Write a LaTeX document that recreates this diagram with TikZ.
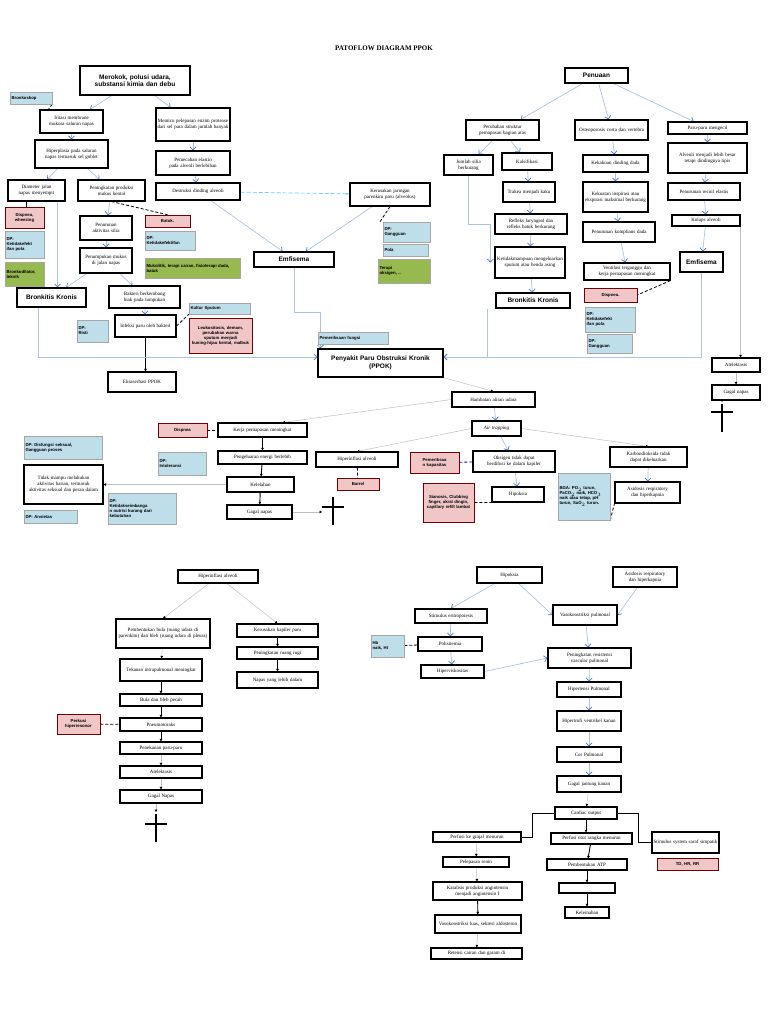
\documentclass[tikz,border=0pt]{standalone}
\usepackage{fontspec}
\setmainfont{Liberation Serif}
\setsansfont{Liberation Sans}
\usetikzlibrary{arrows.meta,backgrounds}
\hyphenpenalty=10000
\exhyphenpenalty=10000
\definecolor{pinkc}{RGB}{240,198,198}
\definecolor{bluec}{RGB}{190,222,234}
\definecolor{greenc}{RGB}{150,185,80}
\definecolor{linec}{RGB}{170,195,225}
\definecolor{headc}{RGB}{70,120,190}
\tikzset{
 box/.style={draw, line width=1.1pt, fill=white, align=center, inner xsep=1.5pt, inner ysep=0.5pt, font=\fontsize{5}{5.8}\selectfont},
 hd/.style={box, font=\fontsize{6.5}{7.5}\selectfont\bfseries\sffamily},
 tagb/.style={draw=gray, line width=0.5pt, align=left, inner xsep=1.5pt, inner ysep=0.5pt, font=\fontsize{4.3}{5}\selectfont\bfseries\sffamily},
 pkb/.style={tagb, fill=pinkc, draw=red!45!black, align=center},
 blb/.style={tagb, fill=bluec, draw=gray!70},
 grb/.style={tagb, fill=greenc, draw=gray!70},
 ba/.style={draw=linec, line width=0.7pt, -{Straight Barb[length=3pt,width=6pt,color=headc]}},
 gl/.style={draw=gray!50, line width=0.5pt, -{Triangle[length=2.5pt,width=2.5pt,color=black]}},
 blk/.style={draw=black, line width=0.9pt, -{Triangle[length=2.5pt,width=2.5pt]}},
 dsh/.style={draw=black, line width=0.8pt, dash pattern=on 3pt off 2pt},
 bdsh/.style={draw=blue!70!black, line width=0.8pt, dash pattern=on 3pt off 2pt},
}
\newcommand{\N}[7]{\node[#1,text width=#5pt-3pt,minimum height=#6pt] (#2) at (#3,#4) {#7};}
\newcommand{\crossmark}[3]{\draw[line width=1.4pt] (#1,#2) -- (#1,#2+28) (#1-11,#2+#3) -- (#1+11,#2+#3);}
\begin{document}
\begin{tikzpicture}[x=1pt,y=-1pt]
\useasboundingbox (0,0) rectangle (768,1024);
\node[font=\fontsize{7}{8}\selectfont\bfseries] (title) at (384,48) {PATOFLOW DIAGRAM PPOK};
% top left
\N{hd}{m1}{135}{80.5}{110}{29}{Merokok, polusi udara,\\substansi kimia dan debu}
\N{blb}{bronk}{31}{98}{42}{12}{Bronkoskop}
\N{box}{a1}{71.5}{121.5}{63}{23}{Iritasi membrane mukosa saluran napas}
\N{box}{a2}{71.5}{154}{73}{28}{Hiperplasia pada saluran napas termasuk sel goblet}
\N{box}{a3}{36.5}{190.5}{57}{21}{Diameter jalan napas menyempit}
\N{box}{a4}{111.5}{190.5}{67}{21}{Peningkatan produksi mukus kental}
\N{pkb}{r1}{24.5}{217.5}{39}{21}{Dispnea,\\wheezing}
\N{blb}{b1}{24.5}{244.5}{39}{27}{DP:\\Ketidakefekt\\ifan pola}
\N{grb}{g1}{24.5}{274}{39}{24}{Bronkodilator,\\teknik}
\N{box}{a5}{106}{228}{52}{24}{Penurunan aktivitas silia}
\N{box}{a6}{106}{260.5}{52}{25}{Penumpukan mukus di jalan napas}
\N{pkb}{r2}{167.5}{221}{45}{12}{Batuk.}
\N{blb}{b2}{170}{240.5}{50}{19}{DP:\\Ketidakefektifan}
\N{grb}{g2}{192.5}{268}{95}{20}{Mukolitik, terapi cairan, fisioterapi dada, batuk}
\N{hd}{bk1}{51.5}{297.5}{69}{19}{Bronkitis Kronis}
\N{box}{a7}{144.5}{297}{71}{22}{Bakteri berkembang biak pada tumpukan}
\N{box}{a8}{145.5}{326}{61}{22}{Infeksi paru oleh bakteri}
\N{blb}{b3}{219.5}{308.5}{61}{11}{Kultur Sputum}
\N{pkb}{r3}{220.5}{335.5}{63}{35}{Leukositosis, demam, perubahan warna sputum menjadi kuning-hijau kental, malbuk}
\N{blb}{b4}{92.5}{331}{31}{22}{DP:\\Risti}
\N{box}{ex}{142}{382}{68}{20}{Eksaserbasi PPOK}
\N{box}{c1}{193}{124.5}{74}{33}{Memicu pelepasan enzim protease dari sel para dalam jumlah banyak}
\N{box}{c2}{193}{163}{74}{24}{Pemecahan elastin pada alveoli berlebihan}
\N{box}{c3}{198}{191.5}{84}{17}{Destruksi dinding alveoli}
\N{hd}{em1}{294}{259.5}{80}{15}{Emfisema}
\N{box}{c4}{390}{194.5}{80}{23}{Kerusakan jaringan parenkim paru (alveolus)}
\N{blb}{b5}{406.5}{232}{47}{20}{DP:\\Gangguan}
\N{blb}{b6}{405.5}{250}{45}{12}{\centering Pola}
\N{grb}{g3}{404}{271}{52}{24}{Terapi\\oksigen, ..}
\N{blb}{b7}{353}{338}{70}{12}{Pemeriksaan fungsi}
\N{hd}{ppok}{380.5}{363}{125}{28}{Penyakit Paru Obstruksi Kronik\\(PPOK)}
% top right
\N{hd}{p0}{596.5}{75.5}{63}{15}{Penuaan}
\N{box}{d1}{502.5}{130}{73}{20}{Perubahan struktur pernapasan bagian atas}
\N{box}{d2}{468.5}{165}{49}{20}{Jumlah silia berkurang}
\N{box}{d3}{527}{161.5}{50}{17}{Kalsifikasi}
\N{box}{d4}{529}{192}{52}{20}{Trakea menjadi kaku}
\N{box}{d5}{531}{224}{72}{20}{Refleks laryngeal dan refleks batuk berkurang}
\N{box}{d6}{530}{262.5}{70}{31}{Ketidakmampuan mengeluarkan sputum atau benda asing}
\N{hd}{bk2}{533}{300.5}{74}{15}{Bronkitis Kronis}
\N{box}{e1}{611.5}{130}{73}{20}{Osteoporosis costa dan vertebra}
\N{box}{e2}{615.5}{163.5}{65}{17}{Kekakuan dinding dada}
\N{box}{e3}{615.5}{197}{65}{30}{Kekuatan inspirasi atau ekspirasi maksimal berkurang}
\N{box}{e4}{619}{232}{72}{20}{Penurunan komplians dada}
\N{box}{e5}{627}{271.5}{86}{17}{Ventilasi terganggu dan kerja pernapasan meningkat}
\N{pkb}{r4}{610.5}{295}{53}{14}{Dispnea.}
\N{blb}{b8}{610}{319.5}{50}{25}{DP:\\Ketidakefekt\\ifan pola}
\N{blb}{b9}{609.5}{343.5}{45}{19}{DP:\\Gangguan}
\N{box}{f1}{707.5}{128}{79}{12}{Paru-paru mengecil}
\N{box}{f2}{707.5}{158}{79}{30}{Alveoli menjadi lebih besar tetapi dindingnya tipis}
\N{box}{f3}{704}{191.5}{72}{17}{Penurunan recoil elastis}
\N{box}{f4}{706}{220.5}{68}{11}{Kolaps alveoli}
\N{hd}{em2}{701.5}{262}{43}{20}{Emfisema}
\N{box}{at1}{736}{365}{48}{14}{Atelektasis}
\N{box}{gn1}{736}{392.5}{48}{15}{Gagal napas}
\coordinate (x1) at (722,402);
% lower middle
\N{box}{h1}{493.5}{399.5}{83}{15}{Hambatan aliran udara}
\N{box}{h2}{496.5}{428.5}{49}{15}{\itshape Air trapping}
\N{pkb}{r5}{182.5}{430}{49}{14}{Dispnea}
\N{box}{k1}{262.5}{430}{89}{14}{Kerja pernapasan meningkat}
\N{blb}{bs}{63}{447.5}{78}{23}{DP: Disfungsi seksual,\\Gangguan proses}
\N{blb}{b10}{182}{463.5}{48}{23}{DP:\\Intoleransi}
\N{box}{k2}{262.5}{457.5}{89}{13}{Pengeluaran energi berlebih}
\N{box}{hi}{357}{459.5}{82}{15}{Hiperinflasi alveoli}
\N{pkb}{pk}{434.5}{462.5}{49}{21}{Pemeriksaa\\n kapasitas}
\N{box}{ok}{514}{461.5}{82}{21}{Oksigen tidak dapat berdifusi ke dalam kapiler}
\N{box}{kb}{648.5}{457}{77}{20}{Karbondioksida tidak dapat dikeluarkan}
\N{box}{tm}{63.5}{484.5}{79}{39}{Tidak mampu melakukan aktivitas harian, termasuk aktivitas seksual dan peran dalam}
\N{box}{kel}{260.5}{484.5}{67}{15}{Kelelahan}
\N{pkb}{barrel}{358}{484}{42}{12}{Barrel}
\N{pkb}{sia}{448.5}{502.5}{51}{39}{Sianosis, Clubbing finger, akral dingin, capillary refill lambat}
\N{box}{hk}{518}{494.5}{52}{15}{Hipoksia}
\N{blb}{bga}{584}{496.5}{52}{47}{BGA: PO$_2$ turun, PaCO$_2$ naik, HCO$_3$ naik atau tetap, pH turun, SaO$_2$ turun.}
\N{box}{as}{647.5}{492.5}{65}{21}{Asidosis respiratory dan hiperkapnia}
\N{blb}{bkt}{142}{508.5}{68}{31}{DP:\\Ketidakseimbanga\\n nutrisi kurang dari kebutuhan}
\N{blb}{ans}{50.5}{516.5}{53}{13}{DP: Ansietas}
\N{box}{gn2}{259.5}{512}{65}{14}{Gagal napas}
\coordinate (x2) at (322,512);
% bottom left
\N{box}{s1}{218}{576.5}{80}{13}{Hiperinflasi alveoli}
\N{box}{s2}{163}{633.5}{94}{29}{Pembentukan bula (ruang udara di parenkim) dan bleb (ruang udara di pleura)}
\N{box}{s3}{277.5}{630.5}{81}{13}{Kerusakan kapiler paru}
\N{box}{s4}{277.5}{653}{81}{12}{Peningkatan ruang rugi}
\N{box}{s5}{277.5}{680}{81}{16}{Napas yang lebih dalam}
\N{box}{s6}{161}{670}{82}{22}{Tekanan intrapulmonal meningkat}
\N{box}{s7}{161}{700}{82}{12}{Bula dan bleb pecah}
\N{box}{s8}{161}{724.5}{82}{13}{Pneumotoraks}
\N{pkb}{r6}{78.5}{724}{43}{20}{Perkusi\\hiperresonor}
\N{box}{s9}{161}{748}{82}{12}{Penekanan paru-paru}
\N{box}{s10}{161}{772}{82}{12}{Atelektasis}
\N{box}{s11}{161}{796.5}{82}{13}{Gagal Napas}
\coordinate (x3) at (156,812);
% bottom right
\N{box}{t1}{509.5}{575}{65}{16}{Hipoksia}
\N{box}{t2}{645}{577}{64}{20}{Asidosis respiratory dan hiperkapnia}
\N{box}{t3}{451}{616}{72}{14}{Stimulus eritropoiesis}
\N{box}{t4}{585}{615}{64}{20}{Vasokonstriksi pulmonal}
\N{box}{t5}{450}{644}{64}{14}{Polisitemia}
\N{blb}{b11}{387.5}{646}{33}{22}{Hb\\naik, Ht}
\N{box}{t6}{452.5}{671.5}{63}{13}{Hiperviskositas}
\N{box}{t7}{589.5}{658}{83}{20}{Peningkatan resistensi vascular pulmonal}
\N{box}{t8}{589}{689.5}{64}{15}{Hipertensi Pulmonal}
\N{box}{t9}{589}{721}{64}{20}{Hipertrofi ventrikel kanan}
\N{box}{t10}{589}{754.5}{64}{15}{Cor Pulmonal}
\N{box}{t11}{589}{784}{64}{16}{Gagal jantung kanan}
\N{box}{t12}{586}{813}{62}{12}{Cardiac output}
\N{box}{u1}{477}{837}{88}{10}{Perfusi ke ginjal menurun}
\N{box}{u2}{591.5}{838.5}{81}{11}{Perfusi otot rangka menurun}
\N{box}{u3}{685.5}{842.5}{67}{21}{Stimulus system saraf simpatik}
\N{pkb}{r7}{687.5}{864}{61}{12}{TD, HR, RR}
\N{box}{u4}{476}{862}{66}{10}{Pelepasan renin}
\N{box}{u5}{477.5}{891}{89}{18}{Katalisis produksi angiotensin menjadi angiotensin I}
\N{box}{u6}{478}{924}{86}{18}{Vasokonstriksi luas, sekresi aldosteron}
\N{box}{u7}{476.5}{953.5}{91}{11}{Retensi cairan dan garam di}
\N{box}{u8}{587}{864.5}{80}{11}{Pembentukan ATP}
\N{box}{u9}{587}{888}{56}{10}{}
\N{box}{u10}{587}{912.5}{44}{11}{Kelemahan}
\begin{pgfonlayer}{background}
\draw[ba] (m1) -- (a1); \draw[ba] (m1) -- (c1);
\draw[ba] (a1) -- (a2); \draw[ba] (a2) -- (a3); \draw[ba] (a2) -- (a4);
\draw[ba] (a4) -- (a5); \draw[ba] (a5) -- (a6); \draw[ba] (a6) -- (bk1);
\draw[ba] (a6) -- (a7); \draw[ba] (a7) -- (a8);
\draw[ba] (c1) -- (c2); \draw[ba] (c2) -- (c3); \draw[ba] (c3) -- (em1); \draw[ba] (c4) -- (em1);
\draw[draw=cyan!60, line width=0.7pt, dash pattern=on 4pt off 2pt, -{Latex[length=3pt]}] (c3) -- (c4);
\draw[ba] ([xshift=21pt]a3.south) -- ([xshift=21pt]a3.south |- bk1.north);
\draw[line width=0.9pt] ([xshift=-10pt]a3.south) -- ([xshift=-10pt]a3.south |- r1.north);
\draw[dsh] (bronk.south east) -- (a1.west);
\draw[dsh] (a4.south) -- (r2.north);
\draw[dsh] (a8.east) -- (b3.south west);
\draw[dsh] (c4.south) -- ([xshift=-10pt]c4.south |- b5.north) ;
\draw[blk] (a8.south) -- (a8.south |- ex.north);
\draw[ba] ([xshift=-13pt]bk1.south) |- ([yshift=6pt]ppok.west);
\draw[ba] (em1.south) -- ++(0,45) -| ([xshift=3pt]ppok.north west);
\draw[ba] (bk2.south west) ++(-8,0) |- ([yshift=6pt]ppok.east);
\draw[ba] (em2.south) |- ([yshift=6pt]ppok.east);
\draw[ba] (p0) -- (d1); \draw[ba] (p0) -- (e1); \draw[ba] (p0) -- (f1);
\draw[ba] (d1) -- (d2); \draw[ba] (d1) -- (d3); \draw[ba] (d3) -- (d4);
\draw[ba] (d4) -- (d5); \draw[ba] (d5) -- (d6); \draw[ba] (d6) -- (bk2);
\draw[ba] (d2.south) |- ([xshift=-4pt]d5.west) -- ([xshift=-4pt]d6.west);
\draw[ba] (e1) -- (e2); \draw[ba] (e2) -- (e3); \draw[ba] (e3) -- (e4); \draw[ba] (e4) -- (e5);
\draw[dsh] (e5.south east) -- (r4.east);
\draw[ba] (f1) -- (f2); \draw[ba] (f2) -- (f3); \draw[ba] (f3) -- (f4); \draw[ba] (f4) -- (em2);
\draw[gl] (f4.south east) -- (f4.south east |- at1.north);
\draw[gl] (at1) -- (gn1); \draw[gl] (gn1.south -| x1) -- (x1);
\draw[gl] (ppok.south east) -- (h1.north);
\draw[ba] (h1) -- (h2);
\draw[gl] (h1.west) -- ([xshift=20pt]k1.north);
\draw[blk] (k1) -- (k2); \draw[blk] (k2) -- (kel); \draw[blk] (kel) -- (gn2);
\draw[gl] (gn2) -- (x2);
\draw[gl] (kel.west) -- (tm.east |- kel.west);
\draw[gl] (h2.west) -- (hi.north); \draw[ba] (h2) -- (ok); \draw[gl] (h2.east) -- (kb.north);
\draw[ba] (ok) -- (hk); \draw[ba] (kb) -- (as);
\draw[dsh] (r5) -- (k1);
\draw[bdsh] (hi) -- (barrel); \draw[bdsh] (pk) -- (ok);
\draw[dsh] (sia.east) -- (hk.south west);
\draw[dsh] (bga.south east) -- (as.south west);
\draw[gl] (s1) -- (s2.north); \draw[gl] (s1) -- (s3.north);
\draw[gl] (s2) -- (s6); \draw[blk] (s6) -- (s7); \draw[blk] (s7) -- (s8); \draw[blk] (s8) -- (s9);
\draw[gl] (s9) -- (s10); \draw[gl] (s10) -- (s11); \draw[gl] (s11.south -| x3) -- (x3);
\draw[blk] (s3) -- (s4); \draw[blk] (s4) -- (s5);
\draw[dsh] (r6) -- (s8);
\draw[ba] (t1) -- (t3.north); \draw[ba] (t1) -- (t4.west); \draw[ba] (t2) -- (t4.east);
\draw[ba] (t3) -- (t5); \draw[ba] (t5) -- (t6); \draw[ba] (t6.east) -- (t7.west); \draw[ba] (t4) -- (t7);
\draw[ba] (t7) -- (t8); \draw[ba] (t8) -- (t9); \draw[ba] (t9) -- (t10); \draw[ba] (t10) -- (t11);
\draw[gl] (t11) -- (t12);
\draw[dsh] (b11) -- (t5);
\draw[line width=0.9pt] (t12.west) -| (532,837) -- (u1.east);
\draw[line width=0.9pt] (t12.east) -| (638,842.5) -- (u3.west);
\draw[blk] (t12) -- (t12 |- u2.north);
\draw[gl] (u1) -- (u4); \draw[gl] (u4) -- (u5); \draw[blk] (u5) -- (u6); \draw[gl] (u6) -- (u7);
\draw[blk] (u2) -- (u8); \draw[blk] (u8) -- (u9); \draw[blk] (u9) -- (u10);
\end{pgfonlayer}
\crossmark{722}{404}{8}
\crossmark{333}{497}{10}
\crossmark{156}{814}{10}
\end{tikzpicture}
\end{document}
